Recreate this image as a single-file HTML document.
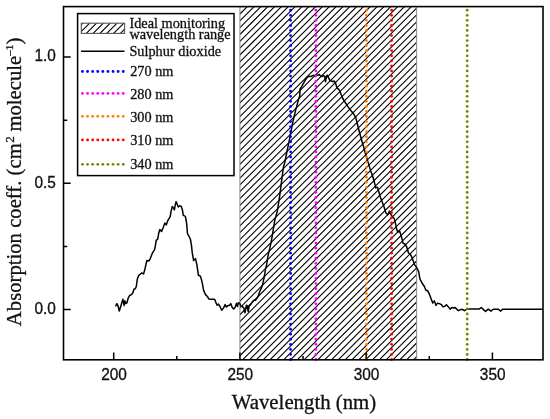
<!DOCTYPE html><html><head><meta charset="utf-8"><style>html,body{margin:0;padding:0;background:#fff;}svg{display:block;}</style></head><body>
<svg width="550" height="419" viewBox="0 0 550 419">
<rect width="550" height="419" fill="#fff"/>
<defs><clipPath id="hc"><rect x="239.93" y="6.60" width="176.73" height="353.20"/></clipPath>
<clipPath id="lc"><rect x="81.3" y="23.2" width="43.3" height="10.2"/></clipPath></defs>
<path clip-path="url(#hc)" d="M248.47 -1.40L-120.73 367.80M255.30 -1.40L-113.90 367.80M262.13 -1.40L-107.07 367.80M268.97 -1.40L-100.23 367.80M275.80 -1.40L-93.40 367.80M282.64 -1.40L-86.56 367.80M289.47 -1.40L-79.73 367.80M296.30 -1.40L-72.90 367.80M303.14 -1.40L-66.06 367.80M309.97 -1.40L-59.23 367.80M316.81 -1.40L-52.39 367.80M323.64 -1.40L-45.56 367.80M330.47 -1.40L-38.73 367.80M337.31 -1.40L-31.89 367.80M344.14 -1.40L-25.06 367.80M350.98 -1.40L-18.22 367.80M357.81 -1.40L-11.39 367.80M364.64 -1.40L-4.56 367.80M371.48 -1.40L2.28 367.80M378.31 -1.40L9.11 367.80M385.15 -1.40L15.95 367.80M391.98 -1.40L22.78 367.80M398.81 -1.40L29.61 367.80M405.65 -1.40L36.45 367.80M412.48 -1.40L43.28 367.80M419.32 -1.40L50.12 367.80M426.15 -1.40L56.95 367.80M432.98 -1.40L63.78 367.80M439.82 -1.40L70.62 367.80M446.65 -1.40L77.45 367.80M453.49 -1.40L84.29 367.80M460.32 -1.40L91.12 367.80M467.15 -1.40L97.95 367.80M473.99 -1.40L104.79 367.80M480.82 -1.40L111.62 367.80M487.66 -1.40L118.46 367.80M494.49 -1.40L125.29 367.80M501.32 -1.40L132.12 367.80M508.16 -1.40L138.96 367.80M514.99 -1.40L145.79 367.80M521.83 -1.40L152.63 367.80M528.66 -1.40L159.46 367.80M535.49 -1.40L166.29 367.80M542.33 -1.40L173.13 367.80M549.16 -1.40L179.96 367.80M556.00 -1.40L186.80 367.80M562.83 -1.40L193.63 367.80M569.66 -1.40L200.46 367.80M576.50 -1.40L207.30 367.80M583.33 -1.40L214.13 367.80M590.17 -1.40L220.97 367.80M597.00 -1.40L227.80 367.80M603.83 -1.40L234.63 367.80M610.67 -1.40L241.47 367.80M617.50 -1.40L248.30 367.80M624.34 -1.40L255.14 367.80M631.17 -1.40L261.97 367.80M638.00 -1.40L268.80 367.80M644.84 -1.40L275.64 367.80M651.67 -1.40L282.47 367.80M658.51 -1.40L289.31 367.80M665.34 -1.40L296.14 367.80M672.17 -1.40L302.97 367.80M679.01 -1.40L309.81 367.80M685.84 -1.40L316.64 367.80M692.68 -1.40L323.48 367.80M699.51 -1.40L330.31 367.80M706.34 -1.40L337.14 367.80M713.18 -1.40L343.98 367.80M720.01 -1.40L350.81 367.80M726.85 -1.40L357.65 367.80M733.68 -1.40L364.48 367.80M740.51 -1.40L371.31 367.80M747.35 -1.40L378.15 367.80M754.18 -1.40L384.98 367.80M761.02 -1.40L391.82 367.80M767.85 -1.40L398.65 367.80M774.68 -1.40L405.48 367.80M781.52 -1.40L412.32 367.80" stroke="#000" stroke-width="1.1" fill="none"/>
<line x1="239.93" y1="6.6" x2="239.93" y2="359.8" stroke="#888" stroke-width="1"/>
<line x1="416.66" y1="6.6" x2="416.66" y2="359.8" stroke="#888" stroke-width="1"/>
<path d="M115.5 306.5 L116.9 303.6 L118.1 306.0 L119.3 311.1 L121.0 305.5 L122.9 299.3 L124.1 305.5 L124.8 300.8 L125.8 303.6 L127.0 302.7 L128.1 298.4 L129.6 295.5 L131.5 294.6 L132.9 292.7 L133.9 289.3 L135.3 288.8 L136.3 286.5 L137.4 278.7 L138.8 275.3 L141.7 273.0 L143.6 273.9 L145.0 268.7 L146.9 260.5 L148.8 261.0 L150.3 258.6 L152.2 253.4 L154.6 249.6 L155.5 244.8 L156.2 240.4 L157.7 239.2 L158.6 233.8 L159.8 229.6 L161.6 231.4 L163.3 227.3 L164.9 223.1 L166.3 224.9 L167.5 221.3 L168.7 218.9 L170.1 217.1 L171.1 211.1 L172.3 206.4 L173.5 208.1 L174.4 209.9 L175.3 204.6 L176.1 201.6 L177.1 204.0 L178.3 207.0 L179.7 205.8 L181.3 206.4 L182.4 209.9 L183.3 215.3 L184.5 215.9 L185.4 216.5 L186.6 223.1 L187.5 233.8 L189.0 236.2 L190.4 239.2 L191.5 245.7 L192.2 252.4 L193.6 260.5 L195.5 258.6 L196.9 264.8 L198.4 275.3 L199.8 275.8 L200.7 276.9 L202.2 282.6 L203.6 290.3 L205.5 294.6 L207.4 296.5 L208.8 298.9 L211.2 299.3 L214.6 299.3 L216.0 302.7 L217.1 305.3 L218.4 304.1 L220.0 306.5 L221.7 310.3 L223.6 307.9 L225.1 304.6 L226.5 307.0 L227.9 305.5 L229.4 305.5 L230.8 303.6 L232.2 307.4 L233.6 308.9 L235.1 307.4 L236.5 303.2 L237.5 306.5 L238.4 302.7 L239.6 303.1 L240.8 305.8 L242.0 306.4 L243.8 307.9 L245.0 312.7 L246.4 305.2 L247.2 305.6 L248.2 311.5 L249.3 305.5 L250.5 305.0 L252.0 302.3 L254.1 300.1 L255.4 300.3 L257.2 298.0 L258.4 295.6 L259.5 292.0 L261.3 288.4 L262.5 284.8 L263.1 282.4 L264.3 276.5 L265.5 269.3 L266.6 265.0 L267.8 256.8 L269.5 249.6 L271.3 241.3 L272.5 234.1 L273.7 226.9 L274.9 219.8 L277.3 211.3 L279.7 195.8 L281.7 180.2 L283.6 166.2 L284.7 163.0 L287.0 151.3 L289.3 140.4 L293.2 120.2 L295.6 110.4 L298.0 101.4 L299.8 95.4 L300.0 89.0 L301.5 86.8 L303.6 83.2 L305.1 80.3 L306.9 77.7 L308.7 76.3 L310.9 76.6 L312.7 75.5 L317.5 75.2 L319.3 74.5 L320.4 75.9 L321.8 76.6 L323.3 75.2 L324.7 76.6 L325.5 81.7 L326.5 75.9 L327.3 75.2 L328.4 77.4 L329.8 80.3 L331.3 81.0 L332.7 81.7 L334.2 81.0 L335.6 83.2 L336.4 86.1 L337.1 88.3 L338.5 89.0 L339.8 90.7 L341.0 94.3 L342.8 98.5 L344.6 101.5 L346.9 105.1 L349.3 108.7 L351.7 111.6 L354.1 114.6 L355.9 118.2 L357.1 123.0 L358.3 127.8 L360.4 135.7 L362.1 141.7 L363.9 147.7 L365.1 152.5 L366.9 158.4 L368.7 164.4 L370.5 170.4 L372.2 174.8 L374.0 180.7 L375.7 187.9 L377.5 187.3 L378.7 191.5 L380.5 197.5 L382.3 202.2 L384.1 207.0 L385.9 213.0 L387.7 214.8 L389.5 211.2 L390.7 214.2 L392.5 216.6 L394.2 218.4 L395.4 223.1 L396.6 229.1 L397.8 232.1 L399.6 230.9 L401.3 236.3 L403.1 243.4 L404.9 244.0 L406.7 247.0 L408.5 253.0 L410.3 254.2 L412.1 257.8 L412.8 259.8 L414.6 264.6 L417.0 268.1 L418.7 271.7 L419.9 278.9 L421.7 282.5 L424.1 286.0 L425.9 290.2 L427.7 290.8 L429.5 294.4 L431.1 298.7 L432.7 303.1 L434.4 300.9 L436.0 305.3 L437.6 303.1 L439.3 303.6 L441.5 304.7 L443.1 306.9 L444.7 306.4 L446.4 304.7 L448.0 306.4 L450.2 309.1 L451.8 307.5 L453.5 308.0 L455.1 307.5 L456.7 309.1 L458.4 310.7 L460.5 309.6 L462.7 309.6 L464.4 310.7 L466.0 309.6 L467.6 309.1 L479.1 309.1 L481.3 307.5 L483.5 309.6 L485.6 311.4 L488.3 309.2 L491.0 311.1 L493.2 309.2 L498.1 309.2 L500.8 311.1 L502.5 309.2 L542.8 309.2" stroke="#000" stroke-width="1.5" fill="none" stroke-linejoin="round"/>
<g fill="#0000ff"><circle cx="290.60" cy="359.50" r="1.4"/><circle cx="290.60" cy="354.44" r="1.4"/><circle cx="290.60" cy="349.38" r="1.4"/><circle cx="290.60" cy="344.31" r="1.4"/><circle cx="290.60" cy="339.25" r="1.4"/><circle cx="290.60" cy="334.19" r="1.4"/><circle cx="290.60" cy="329.13" r="1.4"/><circle cx="290.60" cy="324.07" r="1.4"/><circle cx="290.60" cy="319.00" r="1.4"/><circle cx="290.60" cy="313.94" r="1.4"/><circle cx="290.60" cy="308.88" r="1.4"/><circle cx="290.60" cy="303.82" r="1.4"/><circle cx="290.60" cy="298.76" r="1.4"/><circle cx="290.60" cy="293.69" r="1.4"/><circle cx="290.60" cy="288.63" r="1.4"/><circle cx="290.60" cy="283.57" r="1.4"/><circle cx="290.60" cy="278.51" r="1.4"/><circle cx="290.60" cy="273.45" r="1.4"/><circle cx="290.60" cy="268.38" r="1.4"/><circle cx="290.60" cy="263.32" r="1.4"/><circle cx="290.60" cy="258.26" r="1.4"/><circle cx="290.60" cy="253.20" r="1.4"/><circle cx="290.60" cy="248.14" r="1.4"/><circle cx="290.60" cy="243.07" r="1.4"/><circle cx="290.60" cy="238.01" r="1.4"/><circle cx="290.60" cy="232.95" r="1.4"/><circle cx="290.60" cy="227.89" r="1.4"/><circle cx="290.60" cy="222.83" r="1.4"/><circle cx="290.60" cy="217.76" r="1.4"/><circle cx="290.60" cy="212.70" r="1.4"/><circle cx="290.60" cy="207.64" r="1.4"/><circle cx="290.60" cy="202.58" r="1.4"/><circle cx="290.60" cy="197.52" r="1.4"/><circle cx="290.60" cy="192.45" r="1.4"/><circle cx="290.60" cy="187.39" r="1.4"/><circle cx="290.60" cy="182.33" r="1.4"/><circle cx="290.60" cy="177.27" r="1.4"/><circle cx="290.60" cy="172.21" r="1.4"/><circle cx="290.60" cy="167.14" r="1.4"/><circle cx="290.60" cy="162.08" r="1.4"/><circle cx="290.60" cy="157.02" r="1.4"/><circle cx="290.60" cy="151.96" r="1.4"/><circle cx="290.60" cy="146.90" r="1.4"/><circle cx="290.60" cy="141.83" r="1.4"/><circle cx="290.60" cy="136.77" r="1.4"/><circle cx="290.60" cy="131.71" r="1.4"/><circle cx="290.60" cy="126.65" r="1.4"/><circle cx="290.60" cy="121.59" r="1.4"/><circle cx="290.60" cy="116.52" r="1.4"/><circle cx="290.60" cy="111.46" r="1.4"/><circle cx="290.60" cy="106.40" r="1.4"/><circle cx="290.60" cy="101.34" r="1.4"/><circle cx="290.60" cy="96.28" r="1.4"/><circle cx="290.60" cy="91.21" r="1.4"/><circle cx="290.60" cy="86.15" r="1.4"/><circle cx="290.60" cy="81.09" r="1.4"/><circle cx="290.60" cy="76.03" r="1.4"/><circle cx="290.60" cy="70.97" r="1.4"/><circle cx="290.60" cy="65.90" r="1.4"/><circle cx="290.60" cy="60.84" r="1.4"/><circle cx="290.60" cy="55.78" r="1.4"/><circle cx="290.60" cy="50.72" r="1.4"/><circle cx="290.60" cy="45.66" r="1.4"/><circle cx="290.60" cy="40.59" r="1.4"/><circle cx="290.60" cy="35.53" r="1.4"/><circle cx="290.60" cy="30.47" r="1.4"/><circle cx="290.60" cy="25.41" r="1.4"/><circle cx="290.60" cy="20.35" r="1.4"/><circle cx="290.60" cy="15.28" r="1.4"/><circle cx="290.60" cy="10.22" r="1.4"/></g>
<g fill="#ff00ff"><circle cx="315.90" cy="359.50" r="1.4"/><circle cx="315.90" cy="354.44" r="1.4"/><circle cx="315.90" cy="349.38" r="1.4"/><circle cx="315.90" cy="344.31" r="1.4"/><circle cx="315.90" cy="339.25" r="1.4"/><circle cx="315.90" cy="334.19" r="1.4"/><circle cx="315.90" cy="329.13" r="1.4"/><circle cx="315.90" cy="324.07" r="1.4"/><circle cx="315.90" cy="319.00" r="1.4"/><circle cx="315.90" cy="313.94" r="1.4"/><circle cx="315.90" cy="308.88" r="1.4"/><circle cx="315.90" cy="303.82" r="1.4"/><circle cx="315.90" cy="298.76" r="1.4"/><circle cx="315.90" cy="293.69" r="1.4"/><circle cx="315.90" cy="288.63" r="1.4"/><circle cx="315.90" cy="283.57" r="1.4"/><circle cx="315.90" cy="278.51" r="1.4"/><circle cx="315.90" cy="273.45" r="1.4"/><circle cx="315.90" cy="268.38" r="1.4"/><circle cx="315.90" cy="263.32" r="1.4"/><circle cx="315.90" cy="258.26" r="1.4"/><circle cx="315.90" cy="253.20" r="1.4"/><circle cx="315.90" cy="248.14" r="1.4"/><circle cx="315.90" cy="243.07" r="1.4"/><circle cx="315.90" cy="238.01" r="1.4"/><circle cx="315.90" cy="232.95" r="1.4"/><circle cx="315.90" cy="227.89" r="1.4"/><circle cx="315.90" cy="222.83" r="1.4"/><circle cx="315.90" cy="217.76" r="1.4"/><circle cx="315.90" cy="212.70" r="1.4"/><circle cx="315.90" cy="207.64" r="1.4"/><circle cx="315.90" cy="202.58" r="1.4"/><circle cx="315.90" cy="197.52" r="1.4"/><circle cx="315.90" cy="192.45" r="1.4"/><circle cx="315.90" cy="187.39" r="1.4"/><circle cx="315.90" cy="182.33" r="1.4"/><circle cx="315.90" cy="177.27" r="1.4"/><circle cx="315.90" cy="172.21" r="1.4"/><circle cx="315.90" cy="167.14" r="1.4"/><circle cx="315.90" cy="162.08" r="1.4"/><circle cx="315.90" cy="157.02" r="1.4"/><circle cx="315.90" cy="151.96" r="1.4"/><circle cx="315.90" cy="146.90" r="1.4"/><circle cx="315.90" cy="141.83" r="1.4"/><circle cx="315.90" cy="136.77" r="1.4"/><circle cx="315.90" cy="131.71" r="1.4"/><circle cx="315.90" cy="126.65" r="1.4"/><circle cx="315.90" cy="121.59" r="1.4"/><circle cx="315.90" cy="116.52" r="1.4"/><circle cx="315.90" cy="111.46" r="1.4"/><circle cx="315.90" cy="106.40" r="1.4"/><circle cx="315.90" cy="101.34" r="1.4"/><circle cx="315.90" cy="96.28" r="1.4"/><circle cx="315.90" cy="91.21" r="1.4"/><circle cx="315.90" cy="86.15" r="1.4"/><circle cx="315.90" cy="81.09" r="1.4"/><circle cx="315.90" cy="76.03" r="1.4"/><circle cx="315.90" cy="70.97" r="1.4"/><circle cx="315.90" cy="65.90" r="1.4"/><circle cx="315.90" cy="60.84" r="1.4"/><circle cx="315.90" cy="55.78" r="1.4"/><circle cx="315.90" cy="50.72" r="1.4"/><circle cx="315.90" cy="45.66" r="1.4"/><circle cx="315.90" cy="40.59" r="1.4"/><circle cx="315.90" cy="35.53" r="1.4"/><circle cx="315.90" cy="30.47" r="1.4"/><circle cx="315.90" cy="25.41" r="1.4"/><circle cx="315.90" cy="20.35" r="1.4"/><circle cx="315.90" cy="15.28" r="1.4"/><circle cx="315.90" cy="10.22" r="1.4"/></g>
<g fill="#ff8000"><circle cx="366.40" cy="359.50" r="1.4"/><circle cx="366.40" cy="354.44" r="1.4"/><circle cx="366.40" cy="349.38" r="1.4"/><circle cx="366.40" cy="344.31" r="1.4"/><circle cx="366.40" cy="339.25" r="1.4"/><circle cx="366.40" cy="334.19" r="1.4"/><circle cx="366.40" cy="329.13" r="1.4"/><circle cx="366.40" cy="324.07" r="1.4"/><circle cx="366.40" cy="319.00" r="1.4"/><circle cx="366.40" cy="313.94" r="1.4"/><circle cx="366.40" cy="308.88" r="1.4"/><circle cx="366.40" cy="303.82" r="1.4"/><circle cx="366.40" cy="298.76" r="1.4"/><circle cx="366.40" cy="293.69" r="1.4"/><circle cx="366.40" cy="288.63" r="1.4"/><circle cx="366.40" cy="283.57" r="1.4"/><circle cx="366.40" cy="278.51" r="1.4"/><circle cx="366.40" cy="273.45" r="1.4"/><circle cx="366.40" cy="268.38" r="1.4"/><circle cx="366.40" cy="263.32" r="1.4"/><circle cx="366.40" cy="258.26" r="1.4"/><circle cx="366.40" cy="253.20" r="1.4"/><circle cx="366.40" cy="248.14" r="1.4"/><circle cx="366.40" cy="243.07" r="1.4"/><circle cx="366.40" cy="238.01" r="1.4"/><circle cx="366.40" cy="232.95" r="1.4"/><circle cx="366.40" cy="227.89" r="1.4"/><circle cx="366.40" cy="222.83" r="1.4"/><circle cx="366.40" cy="217.76" r="1.4"/><circle cx="366.40" cy="212.70" r="1.4"/><circle cx="366.40" cy="207.64" r="1.4"/><circle cx="366.40" cy="202.58" r="1.4"/><circle cx="366.40" cy="197.52" r="1.4"/><circle cx="366.40" cy="192.45" r="1.4"/><circle cx="366.40" cy="187.39" r="1.4"/><circle cx="366.40" cy="182.33" r="1.4"/><circle cx="366.40" cy="177.27" r="1.4"/><circle cx="366.40" cy="172.21" r="1.4"/><circle cx="366.40" cy="167.14" r="1.4"/><circle cx="366.40" cy="162.08" r="1.4"/><circle cx="366.40" cy="157.02" r="1.4"/><circle cx="366.40" cy="151.96" r="1.4"/><circle cx="366.40" cy="146.90" r="1.4"/><circle cx="366.40" cy="141.83" r="1.4"/><circle cx="366.40" cy="136.77" r="1.4"/><circle cx="366.40" cy="131.71" r="1.4"/><circle cx="366.40" cy="126.65" r="1.4"/><circle cx="366.40" cy="121.59" r="1.4"/><circle cx="366.40" cy="116.52" r="1.4"/><circle cx="366.40" cy="111.46" r="1.4"/><circle cx="366.40" cy="106.40" r="1.4"/><circle cx="366.40" cy="101.34" r="1.4"/><circle cx="366.40" cy="96.28" r="1.4"/><circle cx="366.40" cy="91.21" r="1.4"/><circle cx="366.40" cy="86.15" r="1.4"/><circle cx="366.40" cy="81.09" r="1.4"/><circle cx="366.40" cy="76.03" r="1.4"/><circle cx="366.40" cy="70.97" r="1.4"/><circle cx="366.40" cy="65.90" r="1.4"/><circle cx="366.40" cy="60.84" r="1.4"/><circle cx="366.40" cy="55.78" r="1.4"/><circle cx="366.40" cy="50.72" r="1.4"/><circle cx="366.40" cy="45.66" r="1.4"/><circle cx="366.40" cy="40.59" r="1.4"/><circle cx="366.40" cy="35.53" r="1.4"/><circle cx="366.40" cy="30.47" r="1.4"/><circle cx="366.40" cy="25.41" r="1.4"/><circle cx="366.40" cy="20.35" r="1.4"/><circle cx="366.40" cy="15.28" r="1.4"/><circle cx="366.40" cy="10.22" r="1.4"/></g>
<g fill="#ff0000"><circle cx="391.60" cy="359.50" r="1.4"/><circle cx="391.60" cy="354.44" r="1.4"/><circle cx="391.60" cy="349.38" r="1.4"/><circle cx="391.60" cy="344.31" r="1.4"/><circle cx="391.60" cy="339.25" r="1.4"/><circle cx="391.60" cy="334.19" r="1.4"/><circle cx="391.60" cy="329.13" r="1.4"/><circle cx="391.60" cy="324.07" r="1.4"/><circle cx="391.60" cy="319.00" r="1.4"/><circle cx="391.60" cy="313.94" r="1.4"/><circle cx="391.60" cy="308.88" r="1.4"/><circle cx="391.60" cy="303.82" r="1.4"/><circle cx="391.60" cy="298.76" r="1.4"/><circle cx="391.60" cy="293.69" r="1.4"/><circle cx="391.60" cy="288.63" r="1.4"/><circle cx="391.60" cy="283.57" r="1.4"/><circle cx="391.60" cy="278.51" r="1.4"/><circle cx="391.60" cy="273.45" r="1.4"/><circle cx="391.60" cy="268.38" r="1.4"/><circle cx="391.60" cy="263.32" r="1.4"/><circle cx="391.60" cy="258.26" r="1.4"/><circle cx="391.60" cy="253.20" r="1.4"/><circle cx="391.60" cy="248.14" r="1.4"/><circle cx="391.60" cy="243.07" r="1.4"/><circle cx="391.60" cy="238.01" r="1.4"/><circle cx="391.60" cy="232.95" r="1.4"/><circle cx="391.60" cy="227.89" r="1.4"/><circle cx="391.60" cy="222.83" r="1.4"/><circle cx="391.60" cy="217.76" r="1.4"/><circle cx="391.60" cy="212.70" r="1.4"/><circle cx="391.60" cy="207.64" r="1.4"/><circle cx="391.60" cy="202.58" r="1.4"/><circle cx="391.60" cy="197.52" r="1.4"/><circle cx="391.60" cy="192.45" r="1.4"/><circle cx="391.60" cy="187.39" r="1.4"/><circle cx="391.60" cy="182.33" r="1.4"/><circle cx="391.60" cy="177.27" r="1.4"/><circle cx="391.60" cy="172.21" r="1.4"/><circle cx="391.60" cy="167.14" r="1.4"/><circle cx="391.60" cy="162.08" r="1.4"/><circle cx="391.60" cy="157.02" r="1.4"/><circle cx="391.60" cy="151.96" r="1.4"/><circle cx="391.60" cy="146.90" r="1.4"/><circle cx="391.60" cy="141.83" r="1.4"/><circle cx="391.60" cy="136.77" r="1.4"/><circle cx="391.60" cy="131.71" r="1.4"/><circle cx="391.60" cy="126.65" r="1.4"/><circle cx="391.60" cy="121.59" r="1.4"/><circle cx="391.60" cy="116.52" r="1.4"/><circle cx="391.60" cy="111.46" r="1.4"/><circle cx="391.60" cy="106.40" r="1.4"/><circle cx="391.60" cy="101.34" r="1.4"/><circle cx="391.60" cy="96.28" r="1.4"/><circle cx="391.60" cy="91.21" r="1.4"/><circle cx="391.60" cy="86.15" r="1.4"/><circle cx="391.60" cy="81.09" r="1.4"/><circle cx="391.60" cy="76.03" r="1.4"/><circle cx="391.60" cy="70.97" r="1.4"/><circle cx="391.60" cy="65.90" r="1.4"/><circle cx="391.60" cy="60.84" r="1.4"/><circle cx="391.60" cy="55.78" r="1.4"/><circle cx="391.60" cy="50.72" r="1.4"/><circle cx="391.60" cy="45.66" r="1.4"/><circle cx="391.60" cy="40.59" r="1.4"/><circle cx="391.60" cy="35.53" r="1.4"/><circle cx="391.60" cy="30.47" r="1.4"/><circle cx="391.60" cy="25.41" r="1.4"/><circle cx="391.60" cy="20.35" r="1.4"/><circle cx="391.60" cy="15.28" r="1.4"/><circle cx="391.60" cy="10.22" r="1.4"/></g>
<g fill="#808000"><circle cx="467.20" cy="359.50" r="1.4"/><circle cx="467.20" cy="354.44" r="1.4"/><circle cx="467.20" cy="349.38" r="1.4"/><circle cx="467.20" cy="344.31" r="1.4"/><circle cx="467.20" cy="339.25" r="1.4"/><circle cx="467.20" cy="334.19" r="1.4"/><circle cx="467.20" cy="329.13" r="1.4"/><circle cx="467.20" cy="324.07" r="1.4"/><circle cx="467.20" cy="319.00" r="1.4"/><circle cx="467.20" cy="313.94" r="1.4"/><circle cx="467.20" cy="308.88" r="1.4"/><circle cx="467.20" cy="303.82" r="1.4"/><circle cx="467.20" cy="298.76" r="1.4"/><circle cx="467.20" cy="293.69" r="1.4"/><circle cx="467.20" cy="288.63" r="1.4"/><circle cx="467.20" cy="283.57" r="1.4"/><circle cx="467.20" cy="278.51" r="1.4"/><circle cx="467.20" cy="273.45" r="1.4"/><circle cx="467.20" cy="268.38" r="1.4"/><circle cx="467.20" cy="263.32" r="1.4"/><circle cx="467.20" cy="258.26" r="1.4"/><circle cx="467.20" cy="253.20" r="1.4"/><circle cx="467.20" cy="248.14" r="1.4"/><circle cx="467.20" cy="243.07" r="1.4"/><circle cx="467.20" cy="238.01" r="1.4"/><circle cx="467.20" cy="232.95" r="1.4"/><circle cx="467.20" cy="227.89" r="1.4"/><circle cx="467.20" cy="222.83" r="1.4"/><circle cx="467.20" cy="217.76" r="1.4"/><circle cx="467.20" cy="212.70" r="1.4"/><circle cx="467.20" cy="207.64" r="1.4"/><circle cx="467.20" cy="202.58" r="1.4"/><circle cx="467.20" cy="197.52" r="1.4"/><circle cx="467.20" cy="192.45" r="1.4"/><circle cx="467.20" cy="187.39" r="1.4"/><circle cx="467.20" cy="182.33" r="1.4"/><circle cx="467.20" cy="177.27" r="1.4"/><circle cx="467.20" cy="172.21" r="1.4"/><circle cx="467.20" cy="167.14" r="1.4"/><circle cx="467.20" cy="162.08" r="1.4"/><circle cx="467.20" cy="157.02" r="1.4"/><circle cx="467.20" cy="151.96" r="1.4"/><circle cx="467.20" cy="146.90" r="1.4"/><circle cx="467.20" cy="141.83" r="1.4"/><circle cx="467.20" cy="136.77" r="1.4"/><circle cx="467.20" cy="131.71" r="1.4"/><circle cx="467.20" cy="126.65" r="1.4"/><circle cx="467.20" cy="121.59" r="1.4"/><circle cx="467.20" cy="116.52" r="1.4"/><circle cx="467.20" cy="111.46" r="1.4"/><circle cx="467.20" cy="106.40" r="1.4"/><circle cx="467.20" cy="101.34" r="1.4"/><circle cx="467.20" cy="96.28" r="1.4"/><circle cx="467.20" cy="91.21" r="1.4"/><circle cx="467.20" cy="86.15" r="1.4"/><circle cx="467.20" cy="81.09" r="1.4"/><circle cx="467.20" cy="76.03" r="1.4"/><circle cx="467.20" cy="70.97" r="1.4"/><circle cx="467.20" cy="65.90" r="1.4"/><circle cx="467.20" cy="60.84" r="1.4"/><circle cx="467.20" cy="55.78" r="1.4"/><circle cx="467.20" cy="50.72" r="1.4"/><circle cx="467.20" cy="45.66" r="1.4"/><circle cx="467.20" cy="40.59" r="1.4"/><circle cx="467.20" cy="35.53" r="1.4"/><circle cx="467.20" cy="30.47" r="1.4"/><circle cx="467.20" cy="25.41" r="1.4"/><circle cx="467.20" cy="20.35" r="1.4"/><circle cx="467.20" cy="15.28" r="1.4"/><circle cx="467.20" cy="10.22" r="1.4"/></g>
<rect x="63.5" y="6.6" width="479.5" height="353.2" fill="none" stroke="#000" stroke-width="1.6"/>
<path d="M113.70 359.8V352.6M239.93 359.8V352.6M366.17 359.8V352.6M492.40 359.8V352.6M176.82 359.8V356.0M303.05 359.8V356.0M429.28 359.8V356.0M63.5 309.50H70.7M63.5 183.30H70.7M63.5 57.10H70.7M63.5 246.40H67.3M63.5 120.20H67.3" stroke="#000" stroke-width="1.5" fill="none"/>
<g font-family="Liberation Sans, Arial, sans-serif" font-size="15.4" fill="#111" stroke="#111" stroke-width="0.3">
<text transform="translate(114.00 379.9) scale(1 1.07)" text-anchor="middle">200</text>
<text transform="translate(240.23 379.9) scale(1 1.07)" text-anchor="middle">250</text>
<text transform="translate(366.47 379.9) scale(1 1.07)" text-anchor="middle">300</text>
<text transform="translate(492.70 379.9) scale(1 1.07)" text-anchor="middle">350</text>
<text transform="translate(55.8 313.80) scale(1 1.07)" text-anchor="end">0.0</text>
<text transform="translate(55.8 187.60) scale(1 1.07)" text-anchor="end">0.5</text>
<text transform="translate(55.8 61.40) scale(1 1.07)" text-anchor="end">1.0</text>
</g>
<text x="304" y="409" text-anchor="middle" font-family="Liberation Serif, Times New Roman, serif" font-size="20.8" fill="#111" stroke="#111" stroke-width="0.3">Wavelength (nm)</text>
<text transform="translate(21 181.9) rotate(-90)" text-anchor="middle" font-family="Liberation Serif, Times New Roman, serif" font-size="20.7" fill="#111" stroke="#111" stroke-width="0.3">Absorption coeff. (cm<tspan font-size="13" dx="0.6" dy="-7.5">2</tspan><tspan dx="-0.6" dy="7.5"> molecule</tspan><tspan font-size="11.2" dy="-8.2">&#8211;1</tspan><tspan dy="8.2">)</tspan></text>
<rect x="77.6" y="13.6" width="156.4" height="162" fill="#fff" stroke="#000" stroke-width="1.5"/>
<path clip-path="url(#lc)" d="M51.83 20L34.83 37M58.66 20L41.66 37M65.50 20L48.50 37M72.33 20L55.33 37M79.17 20L62.17 37M86.00 20L69.00 37M92.83 20L75.83 37M99.67 20L82.67 37M106.50 20L89.50 37M113.34 20L96.34 37M120.17 20L103.17 37M127.00 20L110.00 37M133.84 20L116.84 37M140.67 20L123.67 37M147.51 20L130.51 37M154.34 20L137.34 37M161.17 20L144.17 37M168.01 20L151.01 37M174.84 20L157.84 37M181.68 20L164.68 37M188.51 20L171.51 37M195.34 20L178.34 37M202.18 20L185.18 37M209.01 20L192.01 37M215.85 20L198.85 37M222.68 20L205.68 37M229.51 20L212.51 37M236.35 20L219.35 37M243.18 20L226.18 37M250.02 20L233.02 37M256.85 20L239.85 37M263.68 20L246.68 37M270.52 20L253.52 37M277.35 20L260.35 37M284.19 20L267.19 37" stroke="#000" stroke-width="1.1" fill="none"/>
<rect x="81.3" y="23.2" width="43.3" height="10.2" fill="none" stroke="#555" stroke-width="1.1"/>
<line x1="81" y1="51.2" x2="124.5" y2="51.2" stroke="#000" stroke-width="1.5"/>
<g fill="#0000ff"><circle cx="82.45" cy="71.5" r="1.4"/><circle cx="87.55" cy="71.5" r="1.4"/><circle cx="92.65" cy="71.5" r="1.4"/><circle cx="97.75" cy="71.5" r="1.4"/><circle cx="102.85" cy="71.5" r="1.4"/><circle cx="107.95" cy="71.5" r="1.4"/><circle cx="113.05" cy="71.5" r="1.4"/><circle cx="118.15" cy="71.5" r="1.4"/><circle cx="123.25" cy="71.5" r="1.4"/></g>
<g fill="#ff00ff"><circle cx="82.45" cy="93.4" r="1.4"/><circle cx="87.55" cy="93.4" r="1.4"/><circle cx="92.65" cy="93.4" r="1.4"/><circle cx="97.75" cy="93.4" r="1.4"/><circle cx="102.85" cy="93.4" r="1.4"/><circle cx="107.95" cy="93.4" r="1.4"/><circle cx="113.05" cy="93.4" r="1.4"/><circle cx="118.15" cy="93.4" r="1.4"/><circle cx="123.25" cy="93.4" r="1.4"/></g>
<g fill="#ff8000"><circle cx="82.45" cy="116.3" r="1.4"/><circle cx="87.55" cy="116.3" r="1.4"/><circle cx="92.65" cy="116.3" r="1.4"/><circle cx="97.75" cy="116.3" r="1.4"/><circle cx="102.85" cy="116.3" r="1.4"/><circle cx="107.95" cy="116.3" r="1.4"/><circle cx="113.05" cy="116.3" r="1.4"/><circle cx="118.15" cy="116.3" r="1.4"/><circle cx="123.25" cy="116.3" r="1.4"/></g>
<g fill="#ff0000"><circle cx="82.45" cy="139.9" r="1.4"/><circle cx="87.55" cy="139.9" r="1.4"/><circle cx="92.65" cy="139.9" r="1.4"/><circle cx="97.75" cy="139.9" r="1.4"/><circle cx="102.85" cy="139.9" r="1.4"/><circle cx="107.95" cy="139.9" r="1.4"/><circle cx="113.05" cy="139.9" r="1.4"/><circle cx="118.15" cy="139.9" r="1.4"/><circle cx="123.25" cy="139.9" r="1.4"/></g>
<g fill="#808000"><circle cx="82.45" cy="164.3" r="1.4"/><circle cx="87.55" cy="164.3" r="1.4"/><circle cx="92.65" cy="164.3" r="1.4"/><circle cx="97.75" cy="164.3" r="1.4"/><circle cx="102.85" cy="164.3" r="1.4"/><circle cx="107.95" cy="164.3" r="1.4"/><circle cx="113.05" cy="164.3" r="1.4"/><circle cx="118.15" cy="164.3" r="1.4"/><circle cx="123.25" cy="164.3" r="1.4"/></g>
<g font-family="Liberation Serif, Times New Roman, serif" font-size="14.3" fill="#111" stroke="#111" stroke-width="0.3">
<text x="129.4" y="28.2">Ideal monitoring</text>
<text x="129.4" y="39.4">wavelength range</text>
<text x="129.4" y="55.8">Sulphur dioxide</text>
<text x="130.2" y="76">270 nm</text>
<text x="130.2" y="99.4">280 nm</text>
<text x="130.2" y="121.8">300 nm</text>
<text x="130.2" y="145.2">310 nm</text>
<text x="130.2" y="169">340 nm</text>
</g>
</svg></body></html>
